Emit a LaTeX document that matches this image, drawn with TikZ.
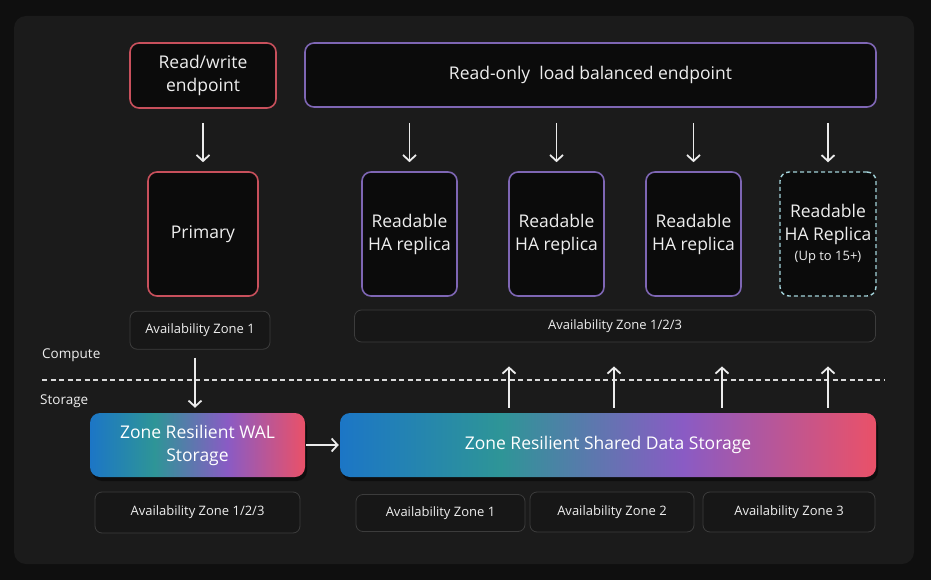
\documentclass[tikz,border=0pt]{standalone}
\usepackage{fontspec}
\setmainfont{Open Sans}
\usetikzlibrary{positioning,calc,arrows.meta,shadows}
\definecolor{pagebg}{HTML}{0F0F0F}
\definecolor{panelbg}{HTML}{1B1B1B}
\definecolor{boxbg}{HTML}{0B0B0B}
\definecolor{zonebg}{HTML}{171717}
\definecolor{zoneline}{HTML}{3C3C3C}
\definecolor{rwred}{HTML}{C8505C}
\definecolor{ropurple}{HTML}{7E66B4}
\definecolor{dashcyan}{HTML}{A3D3DA}
\definecolor{txt}{HTML}{EEEEEE}
\definecolor{gblue}{HTML}{1C76C6}
\definecolor{gteal}{HTML}{2E9597}
\definecolor{gpurple}{HTML}{8A5BC4}
\definecolor{gred}{HTML}{EA5168}
\pgfdeclarehorizontalshading{zonegrad}{100bp}{color(0bp)=(gblue); color(25bp)=(gblue); color(40bp)=(gteal); color(57bp)=(gpurple); color(75bp)=(gred); color(100bp)=(gred)}
\tikzset{
    every node/.style={font=\fontsize{17.5}{23}\selectfont, text=txt, align=center, inner sep=0pt},
    redbox/.style={draw=rwred, fill=boxbg, line width=1.6pt, rounded corners=9pt},
    purplebox/.style={draw=ropurple, fill=boxbg, line width=1.6pt, rounded corners=9pt},
    replicabox/.style={purplebox, minimum width=95pt, minimum height=124pt},
    dashbox/.style={draw=dashcyan, fill=boxbg, line width=1.4pt, dash pattern=on 4pt off 3pt, rounded corners=9pt, minimum width=96pt, minimum height=124pt},
    zonebox/.style={draw=zoneline, fill=zonebg, line width=0.8pt, rounded corners=7pt, font=\fontsize{13}{15}\selectfont},
    storebox/.style={shade, shading=zonegrad, rounded corners=10pt, minimum height=64pt, text=white,
        drop shadow={shadow xshift=2pt, shadow yshift=-4pt, opacity=0.45, fill=black}},
    sidelabel/.style={font=\fontsize{13.5}{15}\selectfont, anchor=west},
    divider/.style={draw=white!85!black, line width=1.6pt, dash pattern=on 5pt off 3.5pt},
    arrow/.style={-{Straight Barb[length=6pt,width=13pt]}, line width=1.8pt, draw=white!92!black},
}
\begin{document}
\begin{tikzpicture}[x=1pt, y=-1pt, node distance=14pt]
% page and panel
\fill[pagebg] (0,0) rectangle (931,580);
\fill[panelbg, rounded corners=12pt] (14,16) rectangle (914,564);
\useasboundingbox (0,0) rectangle (931,580);
% compute layer
\node[redbox, minimum width=146pt, minimum height=65pt] (rw) at (203,75.5) {Read/write\\endpoint};
\node[purplebox, minimum width=571pt, minimum height=64pt] (ro) at (590.5,75) {Read-only\ \ load balanced endpoint};
\node[redbox, minimum width=110pt, minimum height=124pt] (prim) at (203,234) {Primary};
\foreach \x [count=\i] in {409.5,556.5,693.5}{
  \node[replicabox] (rep\i) at (\x,234) {Readable\\HA replica};
}
\node[dashbox] (rep4) at (828,234) {Readable\\HA Replica\\[-3pt]{\fontsize{13}{14}\selectfont (Up to 15+)}};
\node[zonebox, minimum width=140pt, minimum height=38pt, below=14pt of prim, xshift=-3pt] (azp) {Availability Zone 1};
\node[zonebox, minimum width=521pt, minimum height=32pt] (azr) at (615,326) {Availability Zone 1/2/3};
% divider
\node[sidelabel] (compute) at (42,355) {Compute};
\node[sidelabel] (storage) at (40,401) {Storage};
\coordinate (divL) at (42,380);
\coordinate (divR) at (885,380);
\draw[divider] (divL) -- (divR);
% storage layer
\node[storebox, minimum width=215pt] (wal) at (197.5,445) {Zone Resilient WAL\\Storage};
\node[storebox, minimum width=536pt] (shared) at (608,445) {Zone Resilient Shared Data Storage};
\node[zonebox, minimum width=205pt, minimum height=41pt] (azw) at (197.5,512.5) {Availability Zone 1/2/3};
\node[zonebox, minimum width=169pt, minimum height=37pt] (az1) at (440.5,513) {Availability Zone 1};
\node[zonebox, minimum width=164pt, minimum height=40pt] (az2) at (612,512) {Availability Zone 2};
\node[zonebox, minimum width=172pt, minimum height=40pt] (az3) at (789,512) {Availability Zone 3};
% arrows
\draw[arrow, shorten <=14pt, shorten >=9pt] (rw) -- (prim);
\foreach \i in {1,...,4}{
  \draw[arrow, shorten <=15pt, shorten >=9pt] (ro.south -| rep\i) -- (rep\i);
}
\draw[arrow, shorten <=8pt, shorten >=5pt] ([xshift=-5pt]azp.south) -- ([xshift=-5pt]azp.south |- wal.north);
\draw[arrow, shorten <=1pt, shorten >=1pt] (wal) -- (shared);
\foreach \x [count=\i] in {509,614,722,828}{
  \coordinate (up\i) at (\x,0);
  \draw[arrow, shorten <=5pt, shorten >=24pt] (shared.north -| up\i) -- (azr.south -| up\i);
}
\end{tikzpicture}
\end{document}
